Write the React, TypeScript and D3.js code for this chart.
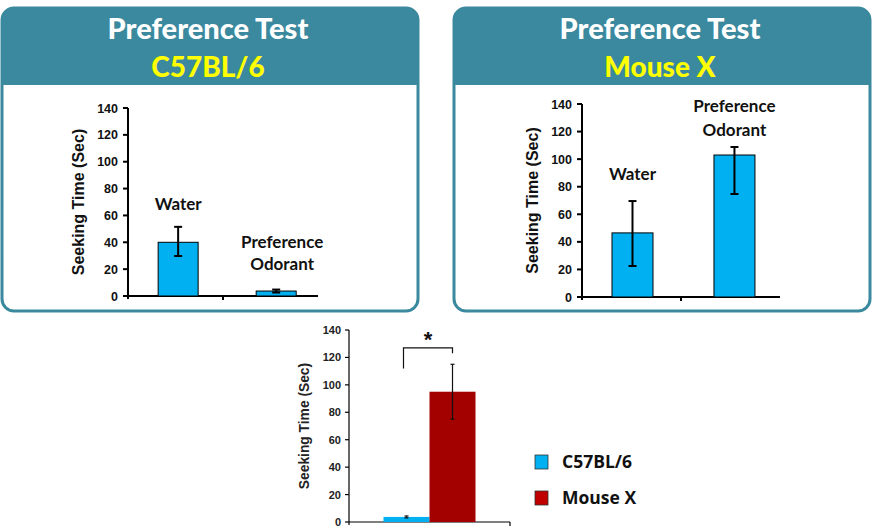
import React from "react";
import * as d3 from "d3";

// groups on the top two panels
const groups = ["Water", "Preference Odorant"];

// C57BL/6 panel
const c57Means = [40, 3.7];
const c57Low = [29.8, 2.6];
const c57High = [51.5, 4.8];

// Mouse X panel
const mouseXMeans = [46.5, 103];
const mouseXLow = [22.5, 74.7];
const mouseXHigh = [69.6, 108.8];

// comparison chart
const strains = ["C57BL/6", "Mouse X"];
const compareMeans = [3.7, 95];
const compareLow = [3.0, 75];
const compareHigh = [4.4, 115];

const yTicks = [0, 20, 40, 60, 80, 100, 120, 140];

const W = 872;
const H = 528;
const TEAL = "#3a899e";
const BLUE = "#00b0f0";
const RED = "#a30000";
const LABEL_FONT = "Lato, 'Open Sans', sans-serif";
const AXIS_FONT = "'Liberation Sans', Arial, sans-serif";

interface PanelProps {
  left: number;
  title: string;
  subtitle: string;
  means: number[];
  lows: number[];
  highs: number[];
  axisX: number;
  axisEnd: number;
  yTop: number;
  yBottom: number;
  padIn: number;
  padOut: number;
  align: number;
  labelDx: number;
  labelY: number[][]; // label line positions in data units
}

function Panel({ left, title, subtitle, means, lows, highs, axisX, axisEnd, yTop, yBottom, padIn, padOut, align, labelDx, labelY }: PanelProps) {
  const boxW = 416;
  const top = 8;
  const boxH = 303;
  const headH = 77;
  const r = 12;

  const y = d3.scaleLinear().domain([0, 140]).range([yBottom, yTop]);
  const x = d3
    .scaleBand<string>()
    .domain(groups)
    .range([axisX, axisEnd])
    .paddingInner(padIn)
    .paddingOuter(padOut)
    .align(align);

  const headPath = `M${left},${top + headH} V${top + r} Q${left},${top} ${left + r},${top} H${left + boxW - r} Q${left + boxW},${top} ${left + boxW},${top + r} V${top + headH} Z`;
  const labelLines = [["Water"], ["Preference", "Odorant"]];

  return (
    <g>
      <rect x={left} y={top} width={boxW} height={boxH} rx={r} fill="#fff" stroke={TEAL} strokeWidth={3} />
      <path d={headPath} fill={TEAL} />
      <text x={left + boxW / 2 - 2} y={top + 31} textAnchor="middle" fontFamily="Lato, sans-serif" fontWeight={900} fontSize={29} fill="#fff">
        {title}
      </text>
      <text x={left + boxW / 2 - 2} y={top + 69} textAnchor="middle" fontFamily="Lato, sans-serif" fontWeight={900} fontSize={28} fill="#ffff00">
        {subtitle}
      </text>

      {/* y axis */}
      <line x1={axisX} x2={axisX} y1={yTop} y2={yBottom + 3} stroke="#000" strokeWidth={2} />
      {yTicks.map((t) => (
        <g key={t}>
          <line x1={axisX - 5} x2={axisX} y1={y(t)} y2={y(t)} stroke="#000" strokeWidth={2} />
          <text x={axisX - 10} y={y(t) + 4.5} textAnchor="end" fontFamily={AXIS_FONT} fontSize={12.5} fontWeight={700} fill="#111">
            {t}
          </text>
        </g>
      ))}
      {/* x axis */}
      <line x1={axisX} x2={axisEnd} y1={yBottom} y2={yBottom} stroke="#000" strokeWidth={2} />
      <line x1={(axisX + axisEnd) / 2} x2={(axisX + axisEnd) / 2} y1={yBottom} y2={yBottom + 4} stroke="#000" strokeWidth={2} />

      <text
        transform={`translate(${axisX - 44},${(yTop + yBottom) / 2}) rotate(-90)`}
        textAnchor="middle"
        fontFamily={AXIS_FONT}
        fontWeight={700}
        fontSize={16}
        fill="#111"
      >
        Seeking Time (Sec)
      </text>

      {groups.map((g, i) => {
        const bx = x(g)!;
        const cx = bx + x.bandwidth() / 2;
        return (
          <g key={g}>
            <rect x={bx} y={y(means[i])} width={x.bandwidth()} height={y(0) - y(means[i])} fill={BLUE} stroke="#000" strokeWidth={1} />
            <line x1={cx} x2={cx} y1={y(lows[i])} y2={y(highs[i])} stroke="#000" strokeWidth={2} />
            <line x1={cx - 4} x2={cx + 4} y1={y(lows[i])} y2={y(lows[i])} stroke="#000" strokeWidth={2} />
            <line x1={cx - 4} x2={cx + 4} y1={y(highs[i])} y2={y(highs[i])} stroke="#000" strokeWidth={2} />
            {labelLines[i].map((s, j) => (
              <text key={s} x={cx + (i === 1 ? labelDx : 0)} y={y(labelY[i][j])} textAnchor="middle" fontFamily={LABEL_FONT} fontWeight={700} fontSize={17} fill="#111">
                {s}
              </text>
            ))}
          </g>
        );
      })}
    </g>
  );
}

function Compare() {
  const axisX = 349;
  const axisEnd = 510;
  const y = d3.scaleLinear().domain([0, 140]).range([522, 330]);
  const x0 = d3.scaleBand<string>().domain(["all"]).range([axisX, axisEnd]).paddingInner(0).paddingOuter(0.375);
  const x1 = d3.scaleBand<string>().domain(strains).range([x0("all")!, x0("all")! + x0.bandwidth()]).padding(0);
  const colors = [BLUE, RED];
  const legendColors = [BLUE, "#c00000"];

  const bx0 = x1(strains[0])! + x1.bandwidth() / 2;
  const bx1 = x1(strains[1])! + x1.bandwidth() / 2;
  const bracketLeft = bx0 - 3;

  return (
    <g>
      <line x1={axisX} x2={axisX} y1={y(140)} y2={y(0) + 3} stroke="#000" strokeWidth={1.2} />
      {yTicks.map((t) => (
        <g key={t}>
          <line x1={axisX - 4} x2={axisX} y1={y(t)} y2={y(t)} stroke="#000" strokeWidth={1.2} />
          <text x={axisX - 8} y={y(t) + 4} textAnchor="end" fontFamily={AXIS_FONT} fontSize={11} fontWeight={700} fill="#222">
            {t}
          </text>
        </g>
      ))}
      <line x1={axisX} x2={axisEnd} y1={y(0)} y2={y(0)} stroke="#000" strokeWidth={1.2} />
      <line x1={axisEnd} x2={axisEnd} y1={y(0)} y2={y(0) + 4} stroke="#000" strokeWidth={1.2} />
      <text
        transform={`translate(${axisX - 40},${(y(0) + y(140)) / 2}) rotate(-90)`}
        textAnchor="middle"
        fontFamily={AXIS_FONT}
        fontWeight={700}
        fontSize={13.8}
        fill="#222"
      >
        Seeking Time (Sec)
      </text>

      {strains.map((s, i) => {
        const bx = x1(s)!;
        const cx = bx + x1.bandwidth() / 2;
        return (
          <g key={s}>
            <rect x={bx} y={y(compareMeans[i])} width={x1.bandwidth()} height={y(0) - y(compareMeans[i])} fill={colors[i]} />
            <line x1={cx} x2={cx} y1={y(compareLow[i])} y2={y(compareHigh[i])} stroke="#111" strokeWidth={1.2} />
            <line x1={cx - 2} x2={cx + 2} y1={y(compareLow[i])} y2={y(compareLow[i])} stroke="#111" strokeWidth={1.2} />
            <line x1={cx - 2} x2={cx + 2} y1={y(compareHigh[i])} y2={y(compareHigh[i])} stroke="#111" strokeWidth={1.2} />
          </g>
        );
      })}

      {/* significance bracket */}
      <path
        d={`M${bracketLeft},${y(112)} V${y(127)} H${bx1} V${y(123)}`}
        fill="none"
        stroke="#111"
        strokeWidth={1.2}
      />
      <text x={(bracketLeft + bx1) / 2} y={y(127) - 1} textAnchor="middle" fontFamily={AXIS_FONT} fontWeight={700} fontSize={22} fill="#111">
        *
      </text>

      {strains.map((s, i) => (
        <g key={s} transform={`translate(535,${455 + i * 36})`}>
          <rect x={0} y={0} width={13} height={14} fill={legendColors[i]} stroke="#333" strokeWidth={0.8} />
          <text x={27} y={13} fontFamily="'Open Sans', sans-serif" fontWeight={700} fontSize={17.5} fill="#111">
            {s}
          </text>
        </g>
      ))}
    </g>
  );
}

export default function App() {
  return (
    <svg width={W} height={H} style={{ position: "absolute", left: 0, top: 0, background: "#fff" }}>
      <Panel
        left={2}
        title="Preference Test"
        subtitle="C57BL/6"
        means={c57Means}
        lows={c57Low}
        highs={c57High}
        axisX={128}
        axisEnd={318}
        yTop={108}
        yBottom={296}
        padIn={0.592}
        padOut={0.265}
        align={0.58}
        labelDx={6}
        labelY={[[64], [36, 19]]}
      />
      <Panel
        left={454}
        title="Preference Test"
        subtitle="Mouse X"
        means={mouseXMeans}
        lows={mouseXLow}
        highs={mouseXHigh}
        axisX={582}
        axisEnd={780}
        yTop={104}
        yBottom={297}
        padIn={0.598}
        padOut={0.27}
        align={0.545}
        labelDx={0}
        labelY={[[85], [134, 117]]}
      />
      <Compare />
    </svg>
  );
}
